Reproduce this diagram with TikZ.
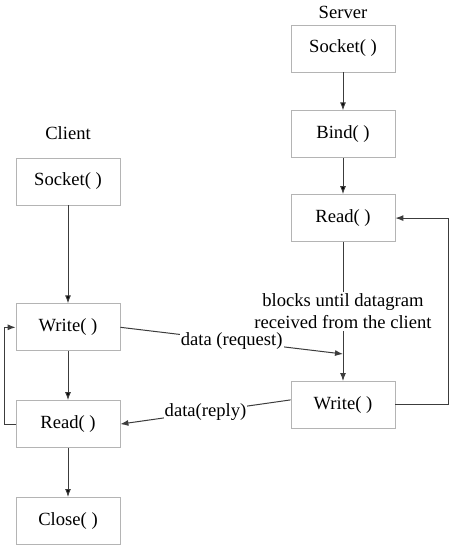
\documentclass[tikz,border=0pt]{standalone}
\usepackage{fontspec}
\setmainfont{Liberation Serif}
\usepackage{xcolor}
\usetikzlibrary{arrows.meta,positioning}
\definecolor{colorBox}{HTML}{B4B4B4}
\definecolor{colorLine}{HTML}{3C3C3C}

\begin{document}
\begin{tikzpicture}[x=1pt,y=1pt,>={Latex[length=8pt,width=6pt]},every node/.append style={align=center,font=\fontsize{18.6}{22}\selectfont},call/.style={draw=colorBox, line width=0.8pt, minimum width=104pt, minimum height=47pt, inner sep=0pt},flow/.style={->, draw=colorLine, line width=1pt},]
    \useasboundingbox (0,0) rectangle (452,-550);
    % client side
    \node (client) at (68,-133) {Client};
    \node [call] (csock) at (68,-181.5) {Socket( )};
    \node [call, below=98pt of csock] (cwrite) {Write( )};
    \node [call, below=49pt of cwrite] (cread) {Read( )};
    \node [call, below=49pt of cread] (cclose) {Close( )};
    % server side
    \node (server) at (343,-12) {Server};
    \node [call] (ssock) at (343,-48.5) {Socket( )};
    \node [call, below=38pt of ssock] (sbind) {Bind( )};
    \node [call, below=36pt of sbind] (sread) {Read( )};
    \node [call, below=139pt of sread] (swrite) {Write( )};
    \coordinate (rcv) at ([yshift=27pt]swrite.north);
    \coordinate (snd) at ([yshift=5pt]swrite.west);
    % client flow
    \path[flow] (csock) edge (cwrite);
    \path[flow] (cwrite) edge (cread);
    \path[flow] (cread) edge (cclose);
    \draw[flow] (cread.west) -- ++(-11,0) |- (cwrite.west);
    % server flow
    \path[flow] (ssock) edge (sbind);
    \path[flow] (sbind) edge (sread);
    \draw[flow] (sread) -- node [fill=white, inner sep=2pt] {blocks until datagram\\received from the client} (swrite);
    \draw[flow] (swrite.east) -- ++(53,0) |- (sread.east);
    % messages
    \draw[flow] (cwrite.east) -- node [fill=white, inner sep=1pt] {data (request)} (rcv);
    \draw[flow] (snd) -- node [fill=white, inner sep=1pt] {data(reply)} (cread.east);
\end{tikzpicture}
\end{document}
